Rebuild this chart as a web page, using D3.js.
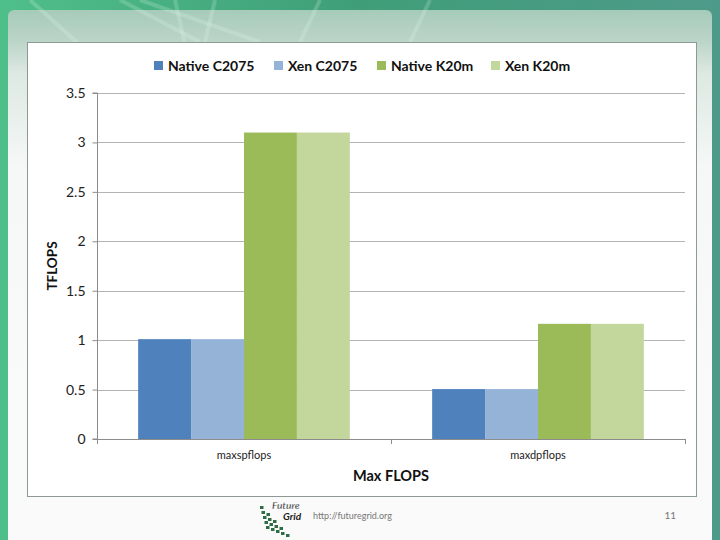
<!DOCTYPE html>
<html>
<head>
<meta charset="utf-8">
<script src="https://cdn.jsdelivr.net/npm/d3@7"></script>
<style>
  body { margin: 0; padding: 0; }
  svg { display: block; }
</style>
</head>
<body>
<svg width="720" height="540"></svg>
<script>
// chart data
let categories = ["maxspflops", "maxdpflops"];
let seriesNames = ["Native C2075", "Xen C2075", "Native K20m", "Xen K20m"];
let seriesColors = ["#4F81BD", "#95B3D7", "#9BBB59", "#C3D69B"];
let nativeC2075 = [1.01, 0.505];
let xenC2075 = [1.01, 0.505];
let nativeK20m = [3.1, 1.165];
let xenK20m = [3.1, 1.165];
let yTicks = [0, 0.5, 1, 1.5, 2, 2.5, 3, 3.5];

let seriesValues = [nativeC2075, xenC2075, nativeK20m, xenK20m];

let svg = d3.select("svg");
let font = "Lato, 'Open Sans', sans-serif";

// slide background
let defs = svg.append("defs");
let bg = defs.append("linearGradient").attr("id", "bg").attr("x1", 0).attr("y1", 0).attr("x2", 1).attr("y2", 0);
bg.append("stop").attr("offset", "0%").attr("stop-color", "#4fbf8a");
bg.append("stop").attr("offset", "50%").attr("stop-color", "#3f9e78");
bg.append("stop").attr("offset", "100%").attr("stop-color", "#4e9a8a");
let panel = defs.append("linearGradient").attr("id", "panel")
    .attr("gradientUnits", "userSpaceOnUse").attr("x1", 0).attr("y1", 10).attr("x2", 0).attr("y2", 540);
panel.append("stop").attr("offset", "0%").attr("stop-color", "#a6cbb9");
panel.append("stop").attr("offset", "6%").attr("stop-color", "#bcd5c9");
panel.append("stop").attr("offset", "12%").attr("stop-color", "#dde9e3");
panel.append("stop").attr("offset", "30%").attr("stop-color", "#f6f8f7");
panel.append("stop").attr("offset", "100%").attr("stop-color", "#fafafa");

svg.append("rect").attr("width", 720).attr("height", 540).attr("fill", "url(#bg)");
svg.append("rect").attr("x", 8).attr("y", 10).attr("width", 704).attr("height", 540)
    .attr("rx", 6).attr("fill", "url(#panel)");

// light streaks at the top
let streaks = [[30, 0, 80, 45], [120, 0, 200, 42], [140, 0, 260, 42], [175, 0, 185, 45], [215, 0, 205, 42], [320, 0, 300, 42], [430, 0, 410, 42]];
svg.append("g").selectAll("line").data(streaks).enter().append("line")
    .attr("x1", d => d[0]).attr("y1", d => d[1]).attr("x2", d => d[2]).attr("y2", d => d[3])
    .attr("stroke", "#e8fff2").attr("stroke-opacity", 0.2).attr("stroke-width", 4);

// chart box
svg.append("rect").attr("x", 27.5).attr("y", 42.5).attr("width", 669).attr("height", 454)
    .attr("fill", "#ffffff").attr("stroke", "#8c9a96").attr("stroke-width", 1);

let margin = {left: 97, right: 685, top: 93, bottom: 439};

let x0 = d3.scaleBand().domain(categories).range([margin.left, margin.right]).paddingInner(0.28).paddingOuter(0.14);
let x1 = d3.scaleBand().domain(seriesNames).range([0, x0.bandwidth()]);
let y = d3.scaleLinear().domain([0, 3.5]).range([margin.bottom, margin.top]);

// gridlines
svg.append("g").selectAll("line").data(yTicks).enter().append("line")
    .attr("x1", margin.left).attr("x2", margin.right)
    .attr("y1", d => Math.round(y(d)) + 0.5).attr("y2", d => Math.round(y(d)) + 0.5)
    .attr("stroke", "#b3b3b3").attr("stroke-width", 1);

// bars
let groups = svg.append("g").selectAll("g").data(categories).enter().append("g")
    .attr("transform", d => `translate(${x0(d)},0)`);
groups.selectAll("rect")
    .data((c, ci) => seriesNames.map((s, si) => ({s: s, v: seriesValues[si][ci], color: seriesColors[si]})))
    .enter().append("rect")
    .attr("x", d => x1(d.s))
    .attr("y", d => y(d.v))
    .attr("width", x1.bandwidth())
    .attr("height", d => y(0) - y(d.v))
    .attr("fill", d => d.color);

// y axis
let yAxis = svg.append("g").attr("transform", `translate(${margin.left + 0.5},0)`)
    .call(d3.axisLeft(y).tickValues(yTicks).tickSize(5).tickPadding(7).tickFormat(d3.format("")));
yAxis.select(".domain").attr("stroke", "#8c8c8c").attr("d", `M-5,${margin.top}H0V${margin.bottom}H-5`);
yAxis.selectAll(".tick line").attr("stroke", "#8c8c8c");
yAxis.selectAll("text").attr("font-family", font).attr("font-size", 14).attr("fill", "#222");

// x axis
let xAxis = svg.append("g").attr("transform", `translate(0,${margin.bottom + 0.5})`)
    .call(d3.axisBottom(x0).tickSize(0).tickPadding(12));
xAxis.select(".domain").attr("stroke", "#8c8c8c").attr("d", `M${margin.left},0H${margin.right}`);
xAxis.selectAll("text").attr("font-family", font).attr("font-size", 11).attr("fill", "#222");
// category separators
svg.append("g").selectAll("line").data([margin.left, (margin.left + margin.right) / 2, margin.right]).enter().append("line")
    .attr("x1", d => d + 0.5).attr("x2", d => d + 0.5)
    .attr("y1", margin.bottom).attr("y2", margin.bottom + 5)
    .attr("stroke", "#8c8c8c");

// axis titles
svg.append("text").attr("transform", "translate(57,266) rotate(-90)")
    .attr("text-anchor", "middle").attr("font-family", font).attr("font-weight", "bold")
    .attr("font-size", 13.5).attr("fill", "#111").text("TFLOPS");
svg.append("text").attr("x", 391).attr("y", 481)
    .attr("text-anchor", "middle").attr("font-family", font).attr("font-weight", "bold")
    .attr("font-size", 14.5).attr("fill", "#111").text("Max FLOPS");

// legend
let legendX = [154, 274, 377, 491];
let legend = svg.append("g").selectAll("g").data(seriesNames).enter().append("g")
    .attr("transform", (d, i) => `translate(${legendX[i]},66)`);
legend.append("rect").attr("x", 0).attr("y", -5).attr("width", 9).attr("height", 9)
    .attr("fill", (d, i) => seriesColors[i]);
legend.append("text").attr("x", 14).attr("y", 5)
    .attr("font-family", font).attr("font-weight", "bold").attr("font-size", 14)
    .attr("fill", "#111").text(d => d);

// footer logo
let logo = svg.append("g").attr("transform", "translate(258,498)");
let dots = [];
for (let r = 0; r < 5; r++) {
    for (let c = 0; c <= r; c++) {
        dots.push([2 + c * 5 + r * 1.5, 8 + r * 5 + c * 2]);
    }
}
logo.selectAll("rect").data(dots).enter().append("rect")
    .attr("x", d => d[0]).attr("y", d => d[1]).attr("width", 3.5).attr("height", 3)
    .attr("fill", "#2f6e45");
logo.append("text").attr("x", 14).attr("y", 11).attr("font-family", font)
    .attr("font-style", "italic").attr("font-weight", "bold").attr("font-size", 10)
    .attr("fill", "#1a1a1a").attr("stroke", "#fff").attr("stroke-width", 0.3).text("Future");
logo.append("text").attr("x", 25).attr("y", 22).attr("font-family", font)
    .attr("font-style", "italic").attr("font-weight", "bold").attr("font-size", 10)
    .attr("fill", "#1a1a1a").text("Grid");

svg.append("text").attr("x", 313).attr("y", 519).attr("font-family", font)
    .attr("font-size", 9).attr("fill", "#777").text("http://futuregrid.org");
svg.append("text").attr("x", 676).attr("y", 519).attr("text-anchor", "end").attr("font-family", font)
    .attr("font-size", 10).attr("fill", "#777").text("11");
</script>
</body>
</html>
